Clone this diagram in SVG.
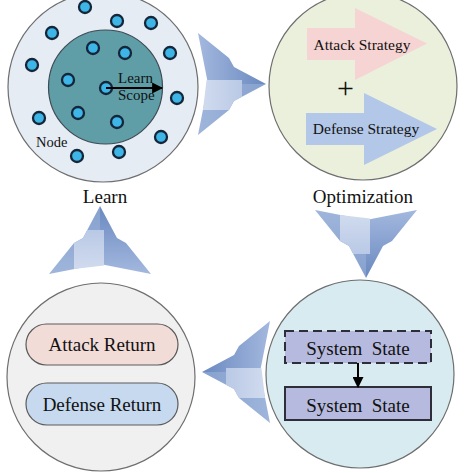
<svg xmlns="http://www.w3.org/2000/svg" width="474" height="474" viewBox="0 0 474 474">
<style>
.ring{stroke:#6e6e6e;stroke-width:1.2}
.dot{fill:#3db5e6;stroke:#15263a;stroke-width:2.3}
.t{font-family:"Liberation Serif","Times New Roman",serif;fill:#111}
.box{fill:#b6bade;stroke:#2e2e3a;stroke-width:2}
.pill{stroke:#5a5a5a;stroke-width:1.2}
</style>
<defs>
<linearGradient id="gTop" gradientUnits="userSpaceOnUse" x1="0" y1="0" x2="68" y2="0">
<stop offset="0" stop-color="#a3b8de"/><stop offset="1" stop-color="#6a89c0"/>
</linearGradient>
<linearGradient id="gBot" gradientUnits="userSpaceOnUse" x1="0" y1="0" x2="68" y2="0">
<stop offset="0" stop-color="#9fb5db"/><stop offset="1" stop-color="#86a1ce"/>
</linearGradient>
<linearGradient id="gPanel" gradientUnits="userSpaceOnUse" x1="0" y1="0" x2="46" y2="0">
<stop offset="0" stop-color="#d3ddef"/><stop offset="1" stop-color="#b8c8e5"/>
</linearGradient>
<g id="bigArrow">
<polygon points="0,-51 31,-26 36,-17 68,0 10,0" fill="url(#gTop)"/>
<polygon points="10,0 68,0 36,17 31,26 0,51" fill="url(#gBot)"/>
<polygon points="8.6,-4 44,-4 44,12.7 36,17 31,26 4.9,26" fill="url(#gPanel)"/>
</g>
<marker id="ah" viewBox="0 0 10 10" refX="9" refY="5" markerWidth="5.5" markerHeight="5.5" orient="auto" markerUnits="strokeWidth">
<path d="M0,0 L10,5 L0,10 z" fill="#000"/>
</marker>
</defs>
<rect width="474" height="474" fill="#ffffff"/>

<g id="node-learn">
<circle cx="103" cy="87" r="95" fill="#e5ecf4" class="ring"/>
<circle cx="105.5" cy="87" r="57" fill="#5f9ea7" stroke="#3d4a55" stroke-width="1.2"/>
<g>
<circle class="dot" cx="85" cy="7" r="6"/>
<circle class="dot" cx="117" cy="21" r="6"/>
<circle class="dot" cx="151" cy="23" r="6"/>
<circle class="dot" cx="52" cy="33" r="6"/>
<circle class="dot" cx="93" cy="48" r="6"/>
<circle class="dot" cx="125" cy="53" r="6"/>
<circle class="dot" cx="170" cy="53" r="6"/>
<circle class="dot" cx="32" cy="65" r="6"/>
<circle class="dot" cx="68" cy="80" r="6"/>
<circle class="dot" cx="106" cy="88" r="6"/>
<circle class="dot" cx="177" cy="98" r="6"/>
<circle class="dot" cx="39" cy="118" r="6"/>
<circle class="dot" cx="78" cy="113" r="6"/>
<circle class="dot" cx="117" cy="122" r="6"/>
<circle class="dot" cx="161" cy="137" r="6"/>
<circle class="dot" cx="119" cy="152" r="6"/>
<circle class="dot" cx="77" cy="156" r="6"/>
</g>
<text class="t" x="118" y="83" font-size="15">Learn</text>
<text class="t" x="118" y="100" font-size="15">Scope</text>
<text class="t" x="36" y="147" font-size="14.5">Node</text>
<text class="t" x="105" y="203" font-size="19" text-anchor="middle">Learn</text>
</g>

<g id="node-optimization">
<circle cx="363" cy="86" r="94" fill="#eaf0dc" class="ring"/>
<polygon points="307,28 355,28 355,8 427,43.5 355,80 355,60 307,60" fill="#f5d4d3"/>
<polygon points="306,113 364,113 364,93 437,129 364,165 364,145 306,145" fill="#b3c7e8"/>
<text class="t" x="362" y="50" font-size="15.5" text-anchor="middle">Attack Strategy</text>
<text class="t" x="366" y="134" font-size="15.5" text-anchor="middle">Defense Strategy</text>
<text class="t" x="345.5" y="98" font-size="30" text-anchor="middle">+</text>
<text class="t" x="363" y="203" font-size="19" text-anchor="middle">Optimization</text>
</g>

<g id="node-state">
<circle cx="360" cy="374" r="94" fill="#d8ebf1" class="ring"/>
<rect class="box" x="285" y="331" width="146" height="32" stroke-dasharray="9,5"/>
<rect class="box" x="285" y="387" width="146" height="33"/>
<text class="t" x="358" y="355" font-size="19" text-anchor="middle" xml:space="preserve">System  State</text>
<text class="t" x="358" y="412" font-size="19" text-anchor="middle" xml:space="preserve">System  State</text>
</g>

<g id="node-return">
<circle cx="101" cy="377" r="94" fill="#f0f0f0" class="ring"/>
<rect class="pill" x="26" y="324" width="152" height="41" rx="20.5" fill="#f2dcd8"/>
<rect class="pill" x="26" y="383" width="152" height="42" rx="21" fill="#c6d9ef"/>
<text class="t" x="102" y="351" font-size="19" text-anchor="middle">Attack Return</text>
<text class="t" x="102" y="411" font-size="19" text-anchor="middle">Defense Return</text>
</g>

<g id="connectors">
<use href="#bigArrow" transform="translate(198,84)"/>
<use href="#bigArrow" transform="translate(366,210) rotate(90)"/>
<use href="#bigArrow" transform="translate(270,372) scale(-1,1)"/>
<use href="#bigArrow" transform="translate(100,274) rotate(-90) scale(1,-1)"/>
<line x1="106" y1="88" x2="162" y2="88" stroke="#000" stroke-width="2" marker-end="url(#ah)"/>
<line x1="358" y1="363" x2="358" y2="387" stroke="#000" stroke-width="2" marker-end="url(#ah)"/>
</g>
</svg>
